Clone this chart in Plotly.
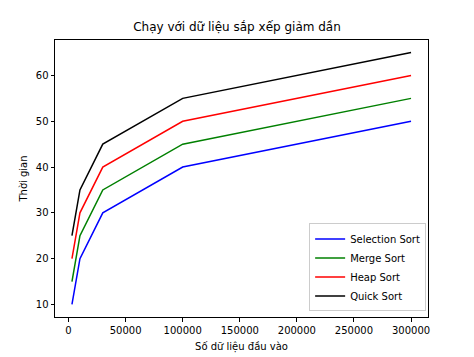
import plotly.graph_objects as go

sizes = [3000, 10000, 30000, 100000, 300000]
selection = [10, 20, 30, 40, 50]
merge = [15, 25, 35, 45, 55]
heap = [20, 30, 40, 50, 60]
quick = [25, 35, 45, 55, 65]

series = [("Selection Sort", selection, "#0000ff"),
          ("Merge Sort", merge, "#008000"),
          ("Heap Sort", heap, "#ff0000"),
          ("Quick Sort", quick, "#000000")]

fig = go.Figure()
for name, ys, c in series:
    fig.add_trace(go.Scatter(x=sizes, y=ys, mode="lines", name=name,
                             line=dict(color=c, width=1.5)))

font = dict(family="DejaVu Sans", size=10, color="#000")
fig.update_layout(
    width=474, height=357,
    margin=dict(l=55, r=46, t=40, b=40),
    paper_bgcolor="white", plot_bgcolor="white",
    font=font,
    title=dict(text="Chạy với dữ liệu sắp xếp giảm dần", x=0.5, xanchor="center",
               y=1 - 27/357, yanchor="middle", font=dict(family="DejaVu Sans", size=12, color="#000")),
    showlegend=True,
    legend=dict(x=0.995, y=0.02, xanchor="right", yanchor="bottom",
                bgcolor="rgba(255,255,255,0.8)", bordercolor="#cccccc", borderwidth=1,
                font=dict(family="DejaVu Sans", size=10, color="#000"),
                tracegroupgap=0, itemwidth=30),
)
fig.update_xaxes(range=[-11850, 314850], tickvals=[0, 50000, 100000, 150000, 200000, 250000, 300000],
                 ticktext=["0", "50000", "100000", "150000", "200000", "250000", "300000"],
                 showgrid=False, zeroline=False, showline=True, linecolor="#000", linewidth=1,
                 mirror=True, ticks="outside", ticklen=3.5, tickcolor="#000", automargin=False,
                 title=dict(text="Số dữ liệu đầu vào", standoff=8, font=font))
fig.update_yaxes(range=[7.25, 67.75], tickvals=[10, 20, 30, 40, 50, 60],
                 showgrid=False, zeroline=False, showline=True, linecolor="#000", linewidth=1,
                 mirror=True, ticks="outside", ticklen=3.5, tickcolor="#000", automargin=False,
                 title=dict(text="Thời gian", standoff=6, font=font))
fig.write_html("out.html")
